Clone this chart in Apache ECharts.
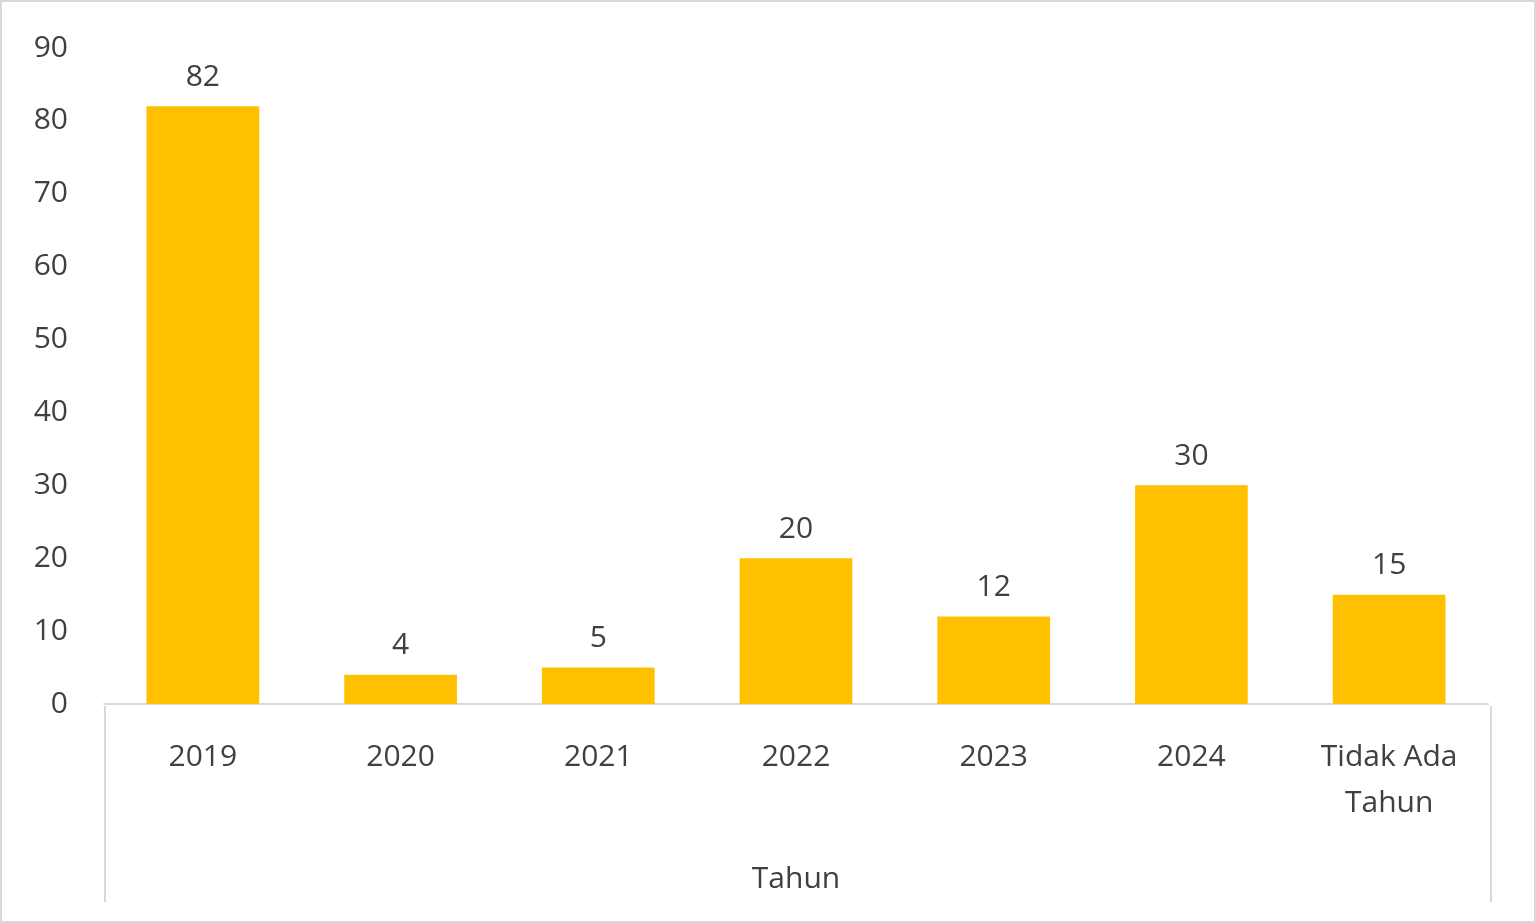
<!DOCTYPE html>
<html>
<head>
<meta charset="utf-8">
<script src="https://cdn.jsdelivr.net/npm/echarts@6/dist/echarts.min.js"></script>
<style>
  html, body { margin: 0; padding: 0; background: #fff; }
  #chart { width: 1536px; height: 923px; box-sizing: border-box; border: 2px solid #d9d9d9; }
</style>
</head>
<body>
<div id="chart"></div>
<script>
// data
var categories = ["2019", "2020", "2021", "2022", "2023", "2024", "Tidak Ada\nTahun"];
var values = [82, 4, 5, 20, 12, 30, 15];
var yTicks = { min: 0, max: 90, interval: 10 };
var axisTitle = "Tahun";

var font = "'Open Sans', 'Noto Sans', sans-serif";
var txt = '#404040';

var myChart = echarts.init(document.getElementById('chart'));
var option = {
	animation: false,
	grid: { left: 102, right: 46, top: 46, bottom: 217 },
	xAxis: {
		type: 'category',
		data: categories,
		name: axisTitle,
		nameLocation: 'middle',
		nameGap: 160,
		nameTextStyle: { color: txt, fontSize: 30, fontFamily: font },
		axisLine: { lineStyle: { color: '#d9d9d9', width: 2 } },
		axisTick: { show: false },
		axisLabel: { color: txt, fontSize: 30, fontFamily: font, margin: 30, lineHeight: 46 }
	},
	yAxis: {
		type: 'value',
		min: yTicks.min,
		max: yTicks.max,
		interval: yTicks.interval,
		axisLine: { show: false },
		axisTick: { show: false },
		splitLine: { show: false },
		axisLabel: { color: txt, fontSize: 30, fontFamily: font, margin: 36 }
	},
	graphic: [
		{ type: 'line', shape: { x1: 103, y1: 704, x2: 103, y2: 900 }, style: { stroke: '#d9d9d9', lineWidth: 2 } },
		{ type: 'line', shape: { x1: 1489, y1: 704, x2: 1489, y2: 900 }, style: { stroke: '#d9d9d9', lineWidth: 2 } }
	],
	series: [{
		type: 'bar',
		data: values,
		barWidth: '57%',
		itemStyle: { color: '#ffc000' },
		label: { show: true, position: 'top', distance: 14, color: txt, fontSize: 30, fontFamily: font }
	}]
};
myChart.setOption(option);
</script>
</body>
</html>
